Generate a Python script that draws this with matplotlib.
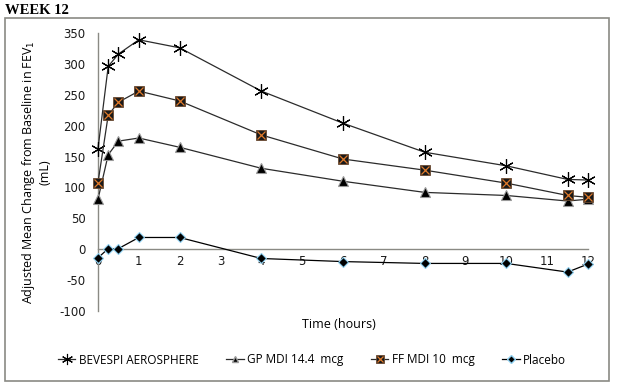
import matplotlib
matplotlib.use("Agg")
import matplotlib.pyplot as plt
from matplotlib.patches import Rectangle
from matplotlib.lines import Line2D
from matplotlib.legend_handler import HandlerTuple

plt.rcParams["axes.unicode_minus"] = False

# ----------------------------
# Data
# ----------------------------
hours = [0, 0.25, 0.5, 1, 2, 4, 6, 8, 10, 11.5, 12]

bevespi = [163, 296, 316, 339, 326, 256, 204, 157, 135, 113, 112]
gp_mdi = [81, 153, 175, 180, 165, 131, 110, 92, 87, 78, 81]
ff_mdi = [108, 217, 238, 256, 240, 185, 146, 128, 107, 87, 84]
placebo = [-14, 1, 1, 19, 19, -15, -20, -23, -23, -37, -24]

labels = ["BEVESPI AEROSPHERE", "GP MDI 14.4  mcg", "FF MDI 10  mcg", "Placebo"]

x_ticks = list(range(0, 13))
y_ticks = list(range(-100, 351, 50))

LINE_COLOR = "#2b2b2b"
ORANGE = "#e07a2a"

W, H = 623, 388
fig = plt.figure(figsize=(W / 100, H / 100), dpi=100)

# outer frame
fig.patches.append(Rectangle((5 / W, 1 - 381 / H), 604 / W, 363 / H,
                             transform=fig.transFigure, fill=False,
                             edgecolor="#8a8a84", linewidth=1.2))

fig.text(5 / W, 1 - 11 / H, "WEEK 12", fontsize=10.5, fontweight="bold",
         family="Liberation Serif", va="center", ha="left")

ax = fig.add_axes([98 / W, 1 - 311 / H, 490 / W, 278 / H])
ax.set_xlim(0, 12)
ax.set_ylim(-100, 350)

# series
asterisk = (6, 2, 0)
ax.plot(hours, bevespi, color=LINE_COLOR, lw=0.9, marker=asterisk,
        markersize=10.5, markeredgecolor="black", markeredgewidth=0.85, zorder=3, clip_on=False)
ax.plot(hours, gp_mdi, color=LINE_COLOR, lw=0.9, marker="^", markersize=7,
        markerfacecolor="black", markeredgecolor="#9a9a9a", markeredgewidth=0.8,
        zorder=3, clip_on=False)
ax.plot(hours, ff_mdi, color=LINE_COLOR, lw=0.9, marker="s", markersize=7.5,
        markerfacecolor="#1a1a1a", markeredgecolor="#6b4a30", markeredgewidth=0.6,
        zorder=3, clip_on=False)
ax.plot(hours, ff_mdi, linestyle="none", marker="x", markersize=6,
        markeredgecolor=ORANGE, markeredgewidth=0.9, zorder=4, clip_on=False)
ax.plot(hours, placebo, color="black", lw=0.9, marker="D", markersize=5.5,
        markerfacecolor="black", markeredgecolor="#8fd0f0", markeredgewidth=0.8,
        zorder=3, clip_on=False)

# axes crossing at origin
for side in ["top", "right"]:
    ax.spines[side].set_visible(False)
ax.spines["bottom"].set_position(("data", 0))
ax.spines["bottom"].set_color("#8a8a84")
ax.spines["left"].set_color("#8a8a84")
ax.spines["bottom"].set_linewidth(1.0)
ax.spines["left"].set_linewidth(1.0)

ax.set_xticks(x_ticks)
ax.set_yticks(y_ticks)
ax.tick_params(axis="both", length=0, labelsize=8.5, labelcolor="#1a1a1a")
ax.tick_params(axis="x", pad=4)
ax.tick_params(axis="y", pad=9)
for lab in ax.get_xticklabels() + ax.get_yticklabels():
    lab.set_family("DejaVu Sans")

fig.text(339 / W, 1 - 324 / H, "Time (hours)", fontsize=9, family="Open Sans",
         ha="center", va="center")
fig.text(36 / W, 1 - 172 / H,
         "Adjusted Mean Change from Baseline in FEV$_1$\n(mL)",
         rotation=90, fontsize=9, family="Open Sans", ha="center", va="center",
         linespacing=1.1)

# legend
h_bev = Line2D([], [], color=LINE_COLOR, lw=0.9, marker=asterisk, markersize=8,
               markeredgecolor="black", markeredgewidth=0.8)
h_gp = Line2D([], [], color=LINE_COLOR, lw=0.9, marker="^", markersize=4.5,
              markerfacecolor="black", markeredgecolor="#9a9a9a")
h_ff_sq = Line2D([], [], color=LINE_COLOR, lw=0.9, marker="s", markersize=5.5,
                 markerfacecolor="#1a1a1a", markeredgecolor="#6b4a30", markeredgewidth=0.6)
h_ff_x = Line2D([], [], linestyle="none", marker="x", markersize=4.5,
                markeredgecolor=ORANGE, markeredgewidth=0.9)
h_pl = Line2D([], [], color="black", lw=0.9, marker="D", markersize=4,
              markerfacecolor="black", markeredgecolor="#8fd0f0")

fig.legend([h_bev, h_gp, (h_ff_sq, h_ff_x), h_pl], labels,
           handler_map={tuple: HandlerTuple(ndivide=1, pad=0)},
           loc="center", bbox_to_anchor=(312 / W, 1 - 360 / H), ncol=4,
           frameon=False, prop={"family": "Open Sans", "size": 8.5},
           handlelength=1.5, handletextpad=0.3, columnspacing=2.3)

fig.savefig("out.png", dpi=100)
